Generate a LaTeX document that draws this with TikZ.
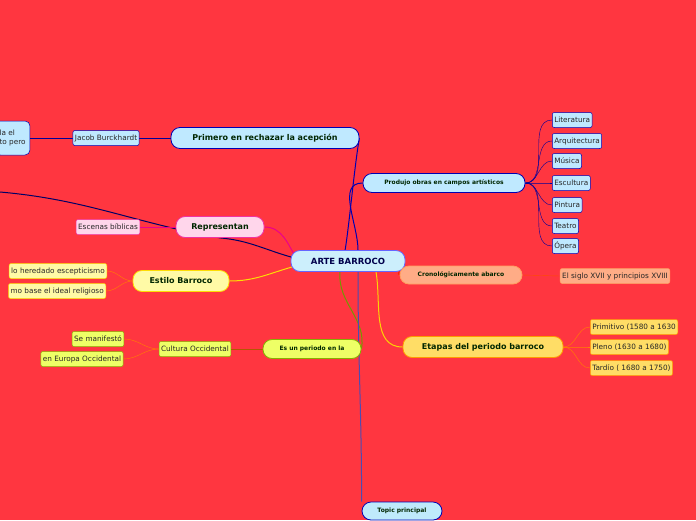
\documentclass[tikz,border=0pt]{standalone}
\usepackage{fontspec}
\setmainfont{DejaVu Sans}
\usetikzlibrary{calc,backgrounds}
\definecolor{bg}{HTML}{FF3640}
\begin{document}
\begin{tikzpicture}[x=1pt,y=-1pt,
 main/.style={draw,rounded corners=9pt,line width=0.8pt,font=\bfseries\fontsize{8}{9}\selectfont,text=black!70!green!50!black,inner xsep=8pt,minimum height=21pt},
 sub/.style={draw,rounded corners=2pt,line width=0.5pt,font=\fontsize{7.3}{8.5}\selectfont,text=black!85,inner sep=2pt,minimum height=15pt},
 blu/.style={fill=blue!35!cyan!25,draw=blue!70!black},
 pnk/.style={fill=pink!80!magenta!40,draw=magenta!80},
 yel/.style={fill=yellow!35,draw=yellow!80!orange},
 grn/.style={fill=lime!45!yellow!60,draw=lime!70!black},
 sal/.style={fill=orange!30!pink,draw=orange!50!pink},
 org/.style={fill=orange!45!yellow!60,draw=orange!80!yellow},
 ln/.style={line width=1pt}]
\useasboundingbox (0,0) rectangle (696,520);
% nodes
\node[main,fill=cyan!20,draw=blue!60,text=blue!30!black,font=\bfseries\fontsize{8.5}{10}\selectfont,minimum width=114pt] (c) at (348,261) {ARTE BARROCO};
\node[main,blu,minimum width=188pt] (pr) at (265,138) {Primero en rechazar la acepción};
\node[sub,blu] (jb) at (106,138) {Jacob Burckhardt};
\node[sub,blu,anchor=west,align=left,minimum height=34pt,rounded corners=5pt] (ex) at (-5,138) {\ la el\\\ to pero\ \ };
\node[main,pnk,minimum width=88pt] (re) at (220,227) {Representan};
\node[sub,pnk] (eb) at (108,227) {Escenas bíblicas};
\coordinate (lf) at (0,192);
\node[main,yel,minimum width=96pt] (es) at (181,281) {Estilo Barroco};
\node[sub,yel,anchor=east] (e1) at (107,271) {lo heredado escepticismo};
\node[sub,yel,anchor=east] (e2) at (106,291) {mo base el ideal religioso};
\node[main,grn,minimum width=98pt,minimum height=19pt,font=\bfseries\fontsize{6}{7}\selectfont] (ep) at (312,349) {Es un periodo en la};
\node[sub,grn] (co) at (195,349) {Cultura Occidental};
\node[sub,grn] (sm) at (98,339) {Se manifestó};
\node[sub,grn] (eu) at (82,359) {en Europa Occidental};
\node[main,blu,minimum width=162pt,minimum height=19pt,font=\bfseries\fontsize{6}{7}\selectfont] (po) at (444,183) {Produjo obras en campos artísticos};
\foreach \n/\t/\y in {a/Literatura/120,b/Arquitectura/141,d/Música/161,e/Escultura/183,f/Pintura/205,g/Teatro/226,h/Ópera/246}
  \node[sub,blu,anchor=west] (\n) at (552,\y) {\t};
\node[main,sal,minimum width=122pt,minimum height=18pt,font=\bfseries\fontsize{6}{7}\selectfont] (cr) at (461,275) {Cronológicamente abarco};
\node[sub,sal] (si) at (615,276) {El siglo XVII y principios XVIII};
\node[main,org,minimum width=160pt] (et) at (483,347) {Etapas del periodo barroco};
\node[sub,org,anchor=west] (p1) at (590,327) {Primitivo (1580 a 1630};
\node[sub,org,anchor=west] (p2) at (590,347) {Pleno (1630 a 1680)};
\node[sub,org,anchor=west] (p3) at (590,368) {Tardío ( 1680 a 1750)};
\node[main,blu,fill=cyan!25,minimum width=80pt,minimum height=18pt,font=\bfseries\fontsize{6}{7}\selectfont] (tp) at (402,511) {Topic principal};
% connectors
\begin{scope}[on background layer]
\fill[bg] (0,0) rectangle (696,520);
\draw[ln,blue!70!black] ($(c.north)+(-8,0)$) to[out=-85,in=-100] (pr.east);
\draw[blue!60!black] (pr.west) -- (jb.east);
\draw[blue!60!black] (jb.west) -- (ex.east);
\draw[ln,blue!40!black] ($(c.west)+(4,-3)$) to[out=165,in=-5] (re.south) to[out=170,in=-5] (lf);
\draw[ln,magenta] (re.east) to[out=0,in=120] ($(c.west)+(6,-2)$);
\draw[magenta] (re.west) -- (eb.east);
\draw[ln,yellow!80!orange] (es.east) to[out=0,in=-165] ($(c.west)+(5,5)$);
\draw[orange] (es.west) to[out=180,in=0] (e1.east);
\draw[orange] (es.west) to[out=180,in=0] (e2.east);
\draw[ln,lime!60!black] ($(c.south)+(-8,0)$) to[out=-95,in=80] (ep.east);
\draw[orange!70!black] (ep.west) -- (co.east);
\draw[orange] (co.west) to[out=180,in=0] (sm.east);
\draw[orange] (co.west) to[out=180,in=0] (eu.east);
\draw[ln,blue!70!black] ($(c.north)+(10,0)$) to[out=90,in=180] (po.west);
\foreach \n in {a,b,d,e,f,g,h} \draw[blue!60!black] (po.east) to[out=0,in=180] (\n.west);
\draw[ln,red!70!orange] ($(c.east)+(-6,4)$) to[out=-30,in=180] (cr.west);
\draw[orange!60!red] (cr.east) -- (si.west);
\draw[ln,yellow!70!orange] ($(c.south)+(28,0)$) to[out=-80,in=180] (et.west);
\foreach \n in {p1,p2,p3} \draw[orange] (et.east) to[out=0,in=180] (\n.west);
\draw[ln,blue!40!gray] ($(c.south)+(10,0)$) to[out=-90,in=90] (tp.north west);
\end{scope}
\end{tikzpicture}
\end{document}
